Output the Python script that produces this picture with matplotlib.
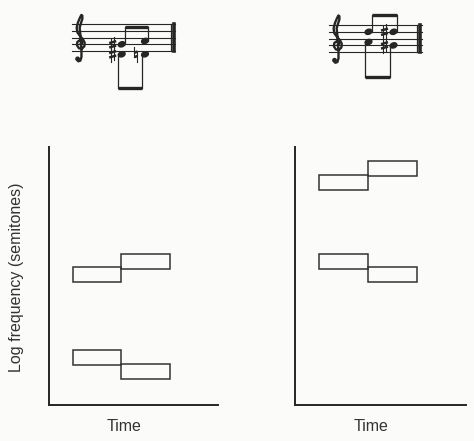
import numpy as np
import matplotlib.pyplot as plt
from matplotlib.patches import Rectangle, Ellipse, Circle

# Datos: duraciones y alturas (semitonos) de cada voz
t_start = [0.5, 1.5]
t_len = 1.0
left_upper = [9.6, 10.6]
left_lower = [3.5, 2.5]
right_upper = [16.4, 17.4]
right_lower = [10.6, 9.6]

# Notacion: posicion en el pentagrama (0 = linea inferior, Mi4) y alteraciones
left_up_steps, left_up_acc = [2, 3], ['sharp', None]
left_lo_steps, left_lo_acc = [-1, -1], ['sharp', 'natural']
right_up_steps, right_up_acc = [6, 6], [None, 'sharp']
right_lo_steps, right_lo_acc = [3, 2], [None, 'sharp']

# Clave de sol aproximada (espacios de pentagrama)
clef_pts = [(0.05, 1.0), (0.3, 1.2), (0.25, 1.5), (-0.05, 1.6), (-0.4, 1.35),
            (-0.45, 0.85), (-0.15, 0.4), (0.3, 0.35), (0.65, 0.7), (0.7, 1.25),
            (0.45, 1.75), (0.0, 2.25), (-0.4, 2.8), (-0.5, 3.5), (-0.3, 4.3),
            (0.0, 5.0), (0.2, 5.4), (0.35, 5.3), (0.35, 4.8), (0.15, 4.2),
            (-0.05, 3.5), (0.05, 2.5), (0.15, 1.2), (0.22, 0.0), (0.22, -0.9),
            (0.05, -1.45), (-0.25, -1.55), (-0.45, -1.3)]

ink = '#262626'
W, H = 474, 441
fig = plt.figure(figsize=(W / 100, H / 100), dpi=100)
fig.patch.set_facecolor('#fbfbfa')
plt.rcParams['font.family'] = ['Liberation Sans', 'DejaVu Sans']


def px_axes(x0, y0, x1, y1):
    return fig.add_axes([x0 / W, 1 - y1 / H, (x1 - x0) / W, (y1 - y0) / H])


# capa para la notacion musical, en pixeles
nax = fig.add_axes([0, 0, 1, 1])
nax.set_xlim(0, W)
nax.set_ylim(H, 0)
nax.axis('off')


def accidental(kind, cx, cy):
    if kind == 'sharp':
        nax.plot([cx - 1.5, cx - 1.5], [cy - 6, cy + 7.5], color=ink, lw=0.8)
        nax.plot([cx + 1.5, cx + 1.5], [cy - 7.5, cy + 6], color=ink, lw=0.8)
        for dy in (-2.2, 2.2):
            nax.plot([cx - 3.5, cx + 3.5], [cy + dy + 1, cy + dy - 1], color=ink,
                     lw=1.8, solid_capstyle='butt')
    else:
        nax.plot([cx - 1.5, cx - 1.5], [cy - 7.5, cy + 3], color=ink, lw=0.8)
        nax.plot([cx + 1.5, cx + 1.5], [cy - 3, cy + 7.5], color=ink, lw=0.8)
        for dy in (-2.2, 2.2):
            nax.plot([cx - 1.5, cx + 1.5], [cy + dy + 0.6, cy + dy - 0.6], color=ink,
                     lw=1.8, solid_capstyle='butt')


def draw_staff(x0, x1, top, gap, clef_x, bar_x, voices):
    bottom = top + 4 * gap
    for i in range(5):
        nax.plot([x0, x1], [top + i * gap] * 2, color=ink, lw=0.8)
    nax.plot([bar_x, bar_x], [top, bottom], color=ink, lw=0.9)
    nax.plot([bar_x + 3, bar_x + 3], [top, bottom], color=ink, lw=2.6)
    cx = [clef_x + p[0] * gap for p in clef_pts]
    cy = [bottom - p[1] * gap for p in clef_pts]
    nax.plot(cx, cy, color=ink, lw=1.7, solid_joinstyle='round', solid_capstyle='round')
    nax.add_patch(Circle((cx[-1] + 0.6, cy[-1] - 0.8), 1.7, color=ink))
    for xs, steps, accs, up, beam_y in voices:
        stems = []
        for x, s, a in zip(xs, steps, accs):
            y = bottom - s * gap / 2
            nax.add_patch(Ellipse((x, y), 7, 5, angle=-20, color=ink))
            sx = x + 3.2 if up else x - 3.2
            stems.append(sx)
            nax.plot([sx, sx], [y, beam_y], color=ink, lw=0.9)
            if a:
                accidental(a, x - 9, y)
        nax.plot([stems[0], stems[-1]], [beam_y, beam_y], color=ink, lw=2.4,
                 solid_capstyle='butt')


draw_staff(72, 175, 24.3, 6.67, 80, 171,
           [([121.7, 145.0], left_up_steps, left_up_acc, True, 26.5),
            ([121.7, 145.0], left_lo_steps, left_lo_acc, False, 88.0)])
draw_staff(329, 422, 25.0, 6.8, 337, 417,
           [([368.5, 393.5], right_up_steps, right_up_acc, True, 14.7),
            ([368.5, 393.5], right_lo_steps, right_lo_acc, False, 76.5)])

# paneles
panels = [(px_axes(49, 147, 218, 405), left_upper, left_lower),
          (px_axes(295, 147, 466, 405), right_upper, right_lower)]

for i, (ax, up, lo) in enumerate(panels):
    for voice in (up, lo):
        for t, p in zip(t_start, voice):
            ax.add_patch(Rectangle((t, p - 0.55), t_len, 1.1, fill=False,
                                   edgecolor='#333333', lw=1.1))
    ax.set_xlim(0, 3.5)
    ax.set_ylim(0, 19)
    ax.set_facecolor('none')
    for side in ('top', 'right'):
        ax.spines[side].set_visible(False)
    for side in ('left', 'bottom'):
        ax.spines[side].set_color(ink)
        ax.spines[side].set_linewidth(1.4)
    ax.set_xticks([])
    ax.set_yticks([])
    ax.set_xlabel('Time', fontsize=11.5, color='#333333', va='center')
    ax.xaxis.set_label_coords(0.447, -0.085)
    if i == 0:
        ax.set_ylabel('Log frequency (semitones)', fontsize=11.5, color='#333333',
                      va='center')
        ax.yaxis.set_label_coords(-0.195, 0.496)

fig.savefig('out.png', dpi=100, facecolor=fig.get_facecolor())
